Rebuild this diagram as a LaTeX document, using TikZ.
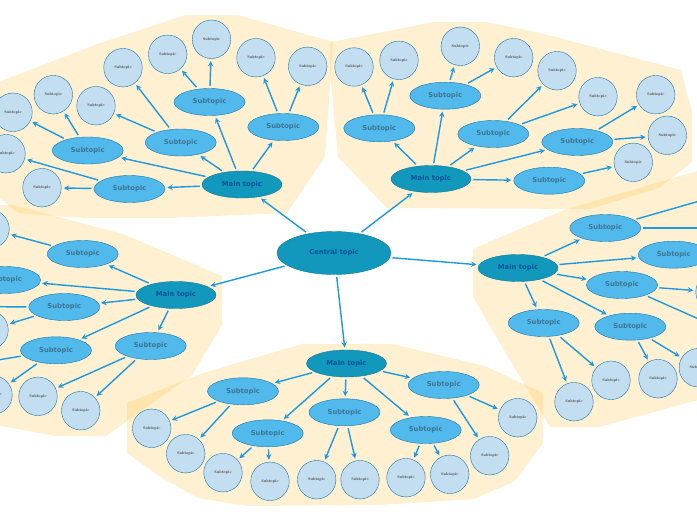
\documentclass[tikz,border=0pt]{standalone}
\usepackage{fontspec}
\setmainfont{DejaVu Sans}
\newfontfamily\leaffont{DejaVu Serif}
\usetikzlibrary{shapes.geometric}
\definecolor{bandcolor}{HTML}{FCC444}
\definecolor{topcolor}{HTML}{1198BC}
\definecolor{subcolor}{HTML}{51B9EC}
\definecolor{leafcolor}{HTML}{C3DDF1}
\definecolor{linecolor}{HTML}{1B99E0}
\definecolor{bordercolor}{HTML}{1377AB}

\begin{document}
\begin{tikzpicture}[x=1pt,y=-1pt,->,>=stealth,shorten >=1pt,shorten <=1pt,
		every edge/.style={draw=linecolor,line width=1.4pt},
		band/.style={fill=bandcolor,fill opacity=.25,draw=none},
		central node/.style={ellipse,draw=topcolor!80!black,fill=topcolor,inner sep=0pt,outer sep=1.5pt,minimum width=114pt,minimum height=43pt,text=black!20!blue!35!teal,font=\bfseries\fontsize{6.8}{8}\selectfont},
		main node/.style={central node,minimum width=80pt,minimum height=27pt},
		sub node/.style={ellipse,draw=bordercolor,fill=subcolor,inner sep=0pt,outer sep=1.5pt,minimum width=71pt,minimum height=27pt,text=bordercolor!70!black!80,font=\bfseries\fontsize{6.8}{8}\selectfont},
		leaf node/.style={circle,draw=bordercolor,fill=leafcolor,inner sep=0pt,outer sep=1.5pt,minimum size=38.5pt,text=black!60,font=\leaffont\bfseries\fontsize{3.5}{4}\selectfont}]
		\useasboundingbox (0,0) rectangle (697,520);
		% background bands
		\path[band] (-10,85) -- (27,71) -- (100,43) -- (186,15) -- (238,15) -- (333,42) -- (325,157) -- (287,213) -- (167,218) -- (83,218) -- (18,213) -- (-10,190) -- cycle;
		\path[band] (330,42) -- (347,39) -- (434,22) -- (486,22) -- (540,33) -- (681,70) -- (692,112) -- (692,162) -- (659,188) -- (590,209) -- (387,208) -- (338,157) -- (330,72) -- cycle;
		\path[band] (473,249) -- (564,210) -- (697,171) -- (720,165) -- (720,394) -- (599,427) -- (550,427) -- (504,350) -- (473,297) -- cycle;
		\path[band] (-10,205) -- (13,205) -- (123,234) -- (222,276) -- (222,325) -- (192,375) -- (106,436) -- (56,436) -- (-10,424) -- cycle;
		\path[band] (127,403) -- (203,373) -- (302,344) -- (392,344) -- (485,366) -- (543,393) -- (543,443) -- (515,481) -- (474,499) -- (380,505) -- (247,506) -- (198,498) -- (162,478) -- (127,453) -- cycle;
		% central and main topics
		\node[central node] (center) at (334,253) {Central topic};
		\node[main node] (main1) at (242,184.5) {Main topic};
		\node[main node] (main2) at (431,179) {Main topic};
		\node[main node] (main3) at (518,268) {Main topic};
		\node[main node] (main4) at (176,295) {Main topic};
		\node[main node] (main5) at (346.5,363.5) {Main topic};
		% upper left
		\node[sub node] (sub1a) at (209.5,102) {Subtopic};
		\node[sub node] (sub1b) at (283.3,127) {Subtopic};
		\node[sub node] (sub1c) at (180.7,142.5) {Subtopic};
		\node[sub node] (sub1d) at (87.7,150.5) {Subtopic};
		\node[sub node] (sub1e) at (129.5,189) {Subtopic};
		\node[leaf node] (leaf1a) at (211.5,39.3) {Subtopic};
		\node[leaf node] (leaf1b) at (167.7,54.3) {Subtopic};
		\node[leaf node] (leaf1c) at (256,57.7) {Subtopic};
		\node[leaf node] (leaf1d) at (307.7,66.3) {Subtopic};
		\node[leaf node] (leaf1e) at (123,67.7) {Subtopic};
		\node[leaf node] (leaf1f) at (96,105.7) {Subtopic};
		\node[leaf node] (leaf1g) at (53.3,94.7) {Subtopic};
		\node[leaf node] (leaf1h) at (13,112.3) {Subtopic};
		\node[leaf node] (leaf1i) at (6,153.7) {Subtopic};
		\node[leaf node] (leaf1j) at (42,187.7) {Subtopic};
		% upper right
		\node[sub node] (sub2a) at (445.3,95.7) {Subtopic};
		\node[sub node] (sub2b) at (379.3,128.3) {Subtopic};
		\node[sub node] (sub2c) at (493.3,134) {Subtopic};
		\node[sub node] (sub2d) at (577.3,142) {Subtopic};
		\node[sub node] (sub2e) at (549.3,180.7) {Subtopic};
		\node[leaf node] (leaf2a) at (460.3,46.3) {Subtopic};
		\node[leaf node] (leaf2b) at (513.7,57.7) {Subtopic};
		\node[leaf node] (leaf2c) at (354,67) {Subtopic};
		\node[leaf node] (leaf2d) at (399,60.3) {Subtopic};
		\node[leaf node] (leaf2e) at (557,70.7) {Subtopic};
		\node[leaf node] (leaf2f) at (598,96.7) {Subtopic};
		\node[leaf node] (leaf2g) at (655.7,94.7) {Subtopic};
		\node[leaf node] (leaf2h) at (667.3,135.3) {Subtopic};
		\node[leaf node] (leaf2i) at (633.3,162.3) {Subtopic};
		% right
		\node[sub node] (sub3a) at (605.3,228) {Subtopic};
		\node[sub node] (sub3b) at (673.7,254.7) {Subtopic};
		\node[sub node] (sub3c) at (622,285) {Subtopic};
		\node[sub node] (sub3d) at (630.3,326.7) {Subtopic};
		\node[sub node] (sub3e) at (543.7,323) {Subtopic};
		\node[leaf node] (leaf3a) at (715,292) {Subtopic};
		\node[leaf node] (leaf3b) at (658,378.7) {Subtopic};
		\node[leaf node] (leaf3c) at (698.3,367.7) {Subtopic};
		\node[leaf node] (leaf3d) at (611,380.3) {Subtopic};
		\node[leaf node] (leaf3e) at (574,401.7) {Subtopic};
		\coordinate (off3a) at (745,188);
		\coordinate (off3b) at (745,228);
		\coordinate (off3c) at (710,324);
		% left
		\node[sub node] (sub4a) at (82.7,254) {Subtopic};
		\node[sub node] (sub4b) at (5,280) {Subtopic};
		\node[sub node] (sub4c) at (64.3,307) {Subtopic};
		\node[sub node] (sub4d) at (56,350.3) {Subtopic};
		\node[sub node] (sub4e) at (150.7,346) {Subtopic};
		\node[leaf node] (leaf4a) at (-10,229) {Subtopic};
		\node[leaf node] (leaf4b) at (-11,330) {Subtopic};
		\node[leaf node] (leaf4c) at (-7,395) {Subtopic};
		\node[leaf node] (leaf4d) at (38,396.3) {Subtopic};
		\node[leaf node] (leaf4e) at (80.7,410.7) {Subtopic};
		\coordinate (off4a) at (-20,306.7);
		\coordinate (off4b) at (-20,363);
		% bottom
		\node[sub node] (sub5a) at (243,391.3) {Subtopic};
		\node[sub node] (sub5b) at (267.7,433.3) {Subtopic};
		\node[sub node] (sub5c) at (344.5,412.3) {Subtopic};
		\node[sub node] (sub5d) at (425.7,430) {Subtopic};
		\node[sub node] (sub5e) at (443.7,385) {Subtopic};
		\node[leaf node] (leaf5a) at (151.7,428.3) {Subtopic};
		\node[leaf node] (leaf5b) at (185.7,453.7) {Subtopic};
		\node[leaf node] (leaf5c) at (223,472.7) {Subtopic};
		\node[leaf node] (leaf5d) at (270,481.3) {Subtopic};
		\node[leaf node] (leaf5e) at (316.7,479.7) {Subtopic};
		\node[leaf node] (leaf5f) at (360,479.7) {Subtopic};
		\node[leaf node] (leaf5g) at (406,477.7) {Subtopic};
		\node[leaf node] (leaf5h) at (449.7,474.3) {Subtopic};
		\node[leaf node] (leaf5i) at (489.7,455.7) {Subtopic};
		\node[leaf node] (leaf5j) at (517.7,417.7) {Subtopic};
		% connectors
		\path[->]
		(center) edge (main1) edge (main2) edge (main3) edge (main4) edge (main5)
		(main1) edge (sub1a) edge (sub1b) edge (sub1c) edge (sub1d) edge (sub1e)
		(sub1a) edge (leaf1a) edge (leaf1b)
		(sub1b) edge (leaf1c) edge (leaf1d)
		(sub1c) edge (leaf1e) edge (leaf1f)
		(sub1d) edge (leaf1g) edge (leaf1h)
		(sub1e) edge (leaf1i) edge (leaf1j)
		(main2) edge (sub2a) edge (sub2b) edge (sub2c) edge (sub2d) edge (sub2e)
		(sub2a) edge (leaf2a) edge (leaf2b)
		(sub2b) edge (leaf2c) edge (leaf2d)
		(sub2c) edge (leaf2e) edge (leaf2f)
		(sub2d) edge (leaf2g) edge (leaf2h)
		(sub2e) edge (leaf2i)
		(main3) edge (sub3a) edge (sub3b) edge (sub3c) edge (sub3d) edge (sub3e)
		(sub3a) edge (off3a) edge (off3b)
		(sub3c) edge (leaf3a) edge (off3c)
		(sub3d) edge (leaf3b) edge (leaf3c)
		(sub3e) edge (leaf3d) edge (leaf3e)
		(main4) edge (sub4a) edge (sub4b) edge (sub4c) edge (sub4d) edge (sub4e)
		(sub4a) edge (leaf4a)
		(sub4c) edge (leaf4b) edge (off4a)
		(sub4d) edge (leaf4c) edge (off4b)
		(sub4e) edge (leaf4d) edge (leaf4e)
		(main5) edge (sub5a) edge (sub5b) edge (sub5c) edge (sub5d) edge (sub5e)
		(sub5a) edge (leaf5a) edge (leaf5b)
		(sub5b) edge (leaf5c) edge (leaf5d)
		(sub5c) edge (leaf5e) edge (leaf5f)
		(sub5d) edge (leaf5g) edge (leaf5h)
		(sub5e) edge (leaf5i) edge (leaf5j);
\end{tikzpicture}
\end{document}
